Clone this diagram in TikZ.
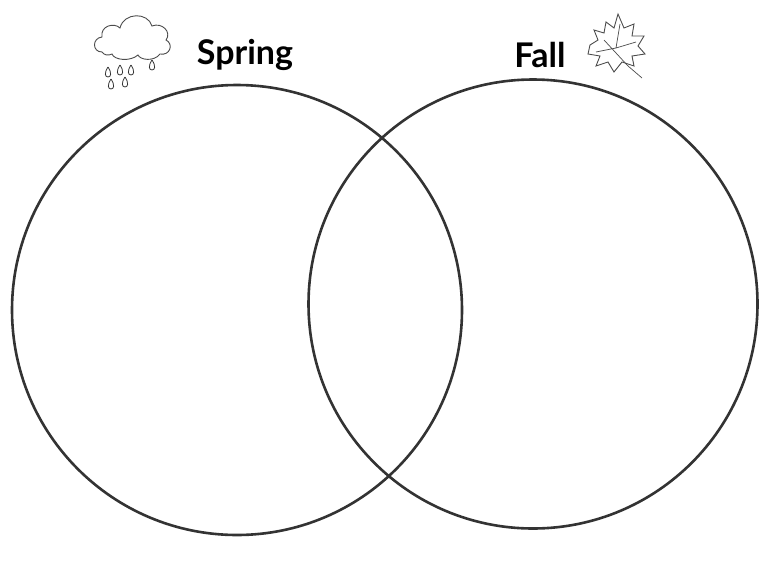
\documentclass[tikz,border=0pt]{standalone}
\usepackage{fontspec}
\newfontfamily\titlefont{Lato}
\begin{document}
\begin{tikzpicture}[x=1pt, y=-1pt,
    ring/.style={draw=black!80, line width=2.6pt},
    title/.style={font=\titlefont\bfseries\fontsize{34}{34}\selectfont},
    drop/.style={draw=black!80, line width=0.8pt},
    icon/.style={draw=black!70, line width=0.9pt, fill=white}]
  \useasboundingbox (0,0) rectangle (768,576);
  % the two sets
  \node [ring, circle, minimum size=450pt, inner sep=0pt] (spring-set) at (237,310) {};
  \node [ring, circle, minimum size=449pt, inner sep=0pt] (fall-set) at (533,304) {};
  % titles
  \node [title] (spring-title) at (245,55) {Spring};
  \node [title] (fall-title) at (540,55) {Fall};
  % cloud with rain
  \draw [icon] (102,52) .. controls (92,52) and (92,38) .. (102,37)
    .. controls (100,26) and (114,22) .. (120,28)
    .. controls (124,12) and (148,12) .. (152,26)
    .. controls (162,22) and (172,32) .. (166,40)
    .. controls (174,44) and (170,56) .. (160,54)
    .. controls (154,62) and (140,60) .. (138,55)
    .. controls (130,62) and (114,60) .. (112,54)
    .. controls (108,56) and (104,55) .. (102,52) -- cycle;
  \foreach \x/\y in {108/73, 120/71, 131/71, 152/66, 111/85, 125/83}
    \draw [drop] (\x,\y-6) .. controls (\x+4,\y) and (\x+3,\y+4) .. (\x,\y+4)
      .. controls (\x-3,\y+4) and (\x-4,\y) .. (\x,\y-6);
  % maple leaf
  \draw [icon] (590,45) -- (598,40) -- (594,30) -- (604,33) -- (606,22)
    -- (614,28) -- (618,14) -- (624,28) -- (634,24) -- (632,36) -- (644,36)
    -- (638,46) -- (645,54) -- (632,56) -- (634,66) -- (622,62) -- (614,72)
    -- (608,62) -- (596,66) -- (600,56) -- (588,54) -- cycle;
  \draw [draw=black!70, line width=0.7pt] (604,40) -- (628,66) -- (642,78)
    (616,48) -- (620,24) (616,48) -- (636,42) (616,48) -- (596,52);
\end{tikzpicture}
\end{document}
